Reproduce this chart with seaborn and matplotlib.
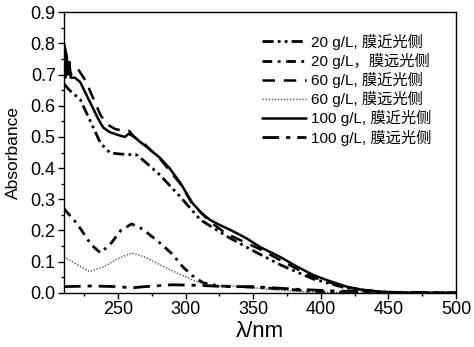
import matplotlib
matplotlib.use("Agg")
import matplotlib.pyplot as plt
import seaborn as sns
import pandas as pd

sns.set_theme(style="white")
plt.rcParams['font.family'] = ['Liberation Sans', 'Noto Sans CJK SC', 'DejaVu Sans']

labels = ["20 g/L, 膜近光侧", "20 g/L，膜远光侧", "60 g/L, 膜近光侧",
          "60 g/L, 膜远光侧", "100 g/L, 膜近光侧", "100 g/L, 膜远光侧"]

# 20 g/L near
x20n = [210, 214, 222, 229, 237, 244, 252, 264, 270, 281, 296, 311, 331, 350, 370, 394, 419, 444, 470, 500]
y20n = [0.67, 0.65, 0.62, 0.555, 0.48, 0.449, 0.445, 0.442, 0.42, 0.378, 0.308, 0.234, 0.18, 0.135, 0.09, 0.045, 0.015, 0.003, 0.0, 0.0]
# 20 g/L far
x20f = [210, 220, 230, 237, 245, 252, 260, 268, 281, 290, 298, 305, 313, 325, 350, 380, 400, 450, 500]
y20f = [0.27, 0.22, 0.155, 0.128, 0.16, 0.2, 0.221, 0.205, 0.16, 0.125, 0.083, 0.055, 0.032, 0.022, 0.018, 0.01, 0.003, 0.0, 0.0]
# 60 g/L near
x60n = [210, 212, 215, 220, 226, 232, 237, 242, 248, 254, 258, 262, 270, 281, 296, 305, 318, 330, 340, 355, 370, 394, 419, 444, 470, 500]
y60n = [0.80, 0.76, 0.70, 0.72, 0.68, 0.62, 0.57, 0.54, 0.525, 0.52, 0.52, 0.50, 0.475, 0.43, 0.35, 0.285, 0.228, 0.19, 0.17, 0.14, 0.105, 0.05, 0.017, 0.003, 0.0, 0.0]
# 60 g/L far
x60f = [210, 220, 229, 240, 250, 260, 270, 281, 293, 305, 315, 330, 345, 360, 380, 400, 450, 500]
y60f = [0.115, 0.09, 0.068, 0.085, 0.11, 0.128, 0.115, 0.09, 0.065, 0.042, 0.025, 0.022, 0.02, 0.012, 0.005, 0.002, 0.0, 0.0]
# 100 g/L near
x100n = [210, 211, 212, 213, 214, 215, 218, 222, 226, 231, 235, 239, 244, 250, 255, 258, 262, 266, 272, 281, 288, 296, 305, 312, 318, 325, 333, 345, 355, 370, 382, 394, 405, 419, 430, 444, 460, 480, 500]
y100n = [0.78, 0.69, 0.76, 0.70, 0.74, 0.69, 0.69, 0.676, 0.64, 0.596, 0.56, 0.53, 0.515, 0.506, 0.50, 0.51, 0.50, 0.485, 0.465, 0.433, 0.40, 0.353, 0.288, 0.255, 0.234, 0.218, 0.202, 0.175, 0.147, 0.115, 0.085, 0.058, 0.04, 0.02, 0.01, 0.003, 0.001, 0.0, 0.0]
# 100 g/L far
x100f = [210, 230, 250, 260, 270, 290, 310, 330, 350, 380, 410, 450, 500]
y100f = [0.02, 0.022, 0.02, 0.016, 0.02, 0.026, 0.024, 0.02, 0.02, 0.012, 0.006, 0.002, 0.0]

series = [(x20n, y20n), (x20f, y20f), (x60n, y60n), (x60f, y60f), (x100n, y100n), (x100f, y100f)]
styles = [
    dict(linestyle=(0, (4, 1.5, 1, 1.5, 1, 1.5)), linewidth=2.0, color='black'),
    dict(linestyle=(0, (3.5, 2, 1, 2)), linewidth=2.0, color='black'),
    dict(linestyle=(0, (5, 3.5)), linewidth=1.8, color='black'),
    dict(linestyle=(0, (1, 1.2)), linewidth=1.0, color='#555555'),
    dict(linestyle='-', linewidth=1.8, color='black'),
    dict(linestyle=(0, (6, 2.5, 1.5, 2.5)), linewidth=2.0, color='black'),
]

fig = plt.figure(figsize=(4.74, 3.47), dpi=100)
ax = fig.add_axes([0.135, 0.156, 0.827, 0.809])

for lab, (xs, ys), st in zip(labels, series, styles):
    df = pd.DataFrame({'wl': xs, 'abs': ys})
    sns.lineplot(data=df, x='wl', y='abs', ax=ax, label=lab, sort=False, **st)

ax.set_xlim(210, 500)
ax.set_ylim(0, 0.9)
ax.set_xticks([250, 300, 350, 400, 450, 500])
ax.set_xticks([225, 275, 325, 375, 425, 475], minor=True)
ax.set_yticks([i / 10 for i in range(10)])
ax.set_yticks([0.05 + i / 10 for i in range(9)], minor=True)
ax.set_yticklabels([f"{i/10:.1f}" for i in range(10)])
ax.tick_params(axis='both', which='major', direction='out', length=4, width=1,
               labelsize=13, color='black', labelcolor='black', bottom=True, left=True, pad=2)
ax.tick_params(axis='both', which='minor', direction='out', length=2.5, width=1,
               color='black', bottom=True, left=True)
for s in ax.spines.values():
    s.set_color('black')
    s.set_linewidth(1.0)
ax.set_xlabel('λ/nm', fontsize=16, color='black', labelpad=2)
ax.set_ylabel('Absorbance', fontsize=12.5, color='black', labelpad=7)

leg = ax.legend(frameon=False, loc='upper left', bbox_to_anchor=(0.49, 0.945),
                fontsize=11, handlelength=2.9, handletextpad=0.3, labelspacing=0.2,
                borderaxespad=0)
for t in leg.get_texts():
    t.set_color('black')

fig.savefig('out.png', dpi=100)
